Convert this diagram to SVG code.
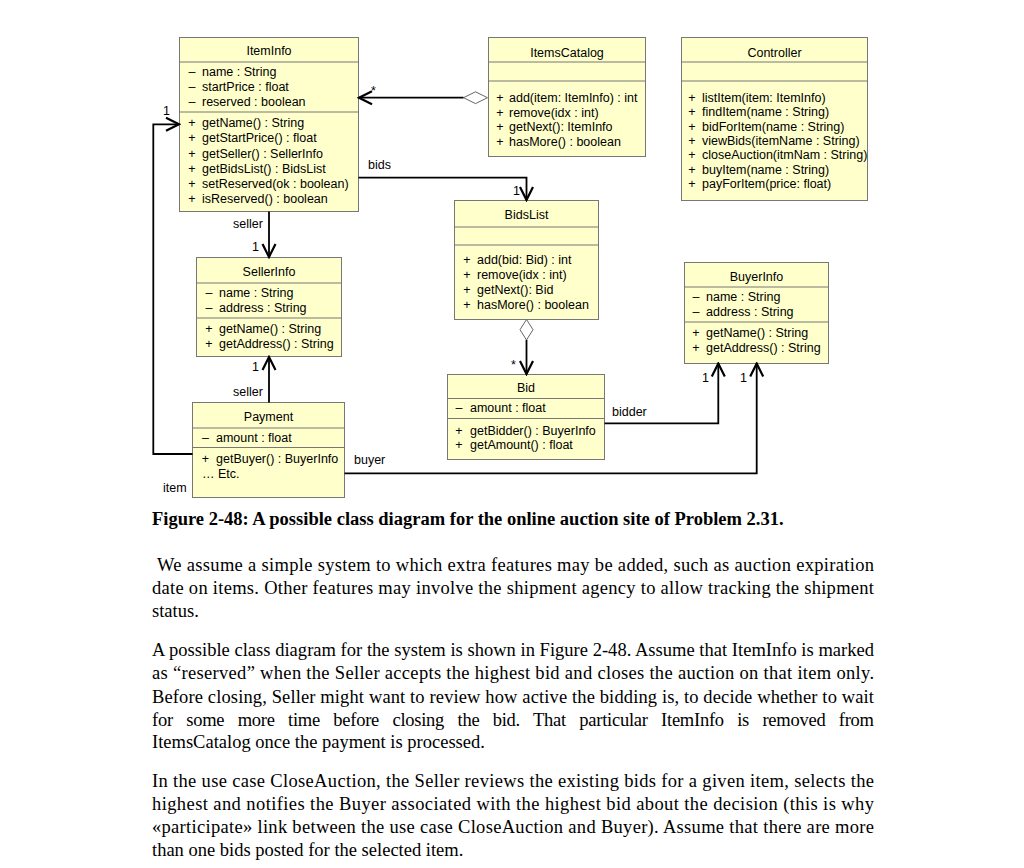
<svg xmlns="http://www.w3.org/2000/svg" width="1024" height="868" viewBox="0 0 1024 868">
<defs>
<style>
.box{fill:#FFFFCC;stroke:#777;stroke-width:1}
.sep{stroke:#777;stroke-width:1}
.t{font-family:"Liberation Sans",Arial,sans-serif;font-size:12.5px;fill:#000}
.c{text-anchor:middle}
.conn{fill:none;stroke:#000;stroke-width:1.8}
.dia{fill:#fff;stroke:#666;stroke-width:1}
.p{font-family:"Liberation Serif","Times New Roman",serif;font-size:18.5px;fill:#000}
.cap{font-weight:bold}
</style>
<marker id="open" markerUnits="userSpaceOnUse" viewBox="-16 -9 18 18" refX="0" refY="0" markerWidth="18" markerHeight="18" orient="auto">
<path d="M-13,-6.5 L0,0 L-13,6.5" fill="none" stroke="#000" stroke-width="2.2"/>
</marker>
</defs>
<rect width="1024" height="868" fill="#fff"/>

<g id="ItemInfo">
<rect class="box" x="179.5" y="37.5" width="179" height="174"/>
<line class="sep" x1="179.5" y1="62" x2="358.5" y2="62"/>
<line class="sep" x1="179.5" y1="112" x2="358.5" y2="112"/>
<text class="t c" x="269" y="55">ItemInfo</text>
<text class="t c" x="192" y="76">–</text><text class="t" x="202" y="76">name : String</text>
<text class="t c" x="192" y="91">–</text><text class="t" x="202" y="91">startPrice : float</text>
<text class="t c" x="192" y="106">–</text><text class="t" x="202" y="106">reserved : boolean</text>
<text class="t c" x="192" y="127">+</text><text class="t" x="202" y="127">getName() : String</text>
<text class="t c" x="192" y="142">+</text><text class="t" x="202" y="142">getStartPrice() : float</text>
<text class="t c" x="192" y="157.5">+</text><text class="t" x="202" y="157.5">getSeller() : SellerInfo</text>
<text class="t c" x="192" y="172.5">+</text><text class="t" x="202" y="172.5">getBidsList() : BidsList</text>
<text class="t c" x="192" y="187.5">+</text><text class="t" x="202" y="187.5">setReserved(ok : boolean)</text>
<text class="t c" x="192" y="202.5">+</text><text class="t" x="202" y="202.5">isReserved() : boolean</text>
</g>

<g id="ItemsCatalog">
<rect class="box" x="488.5" y="37.5" width="157" height="119"/>
<line class="sep" x1="488.5" y1="62" x2="645.5" y2="62"/>
<line class="sep" x1="488.5" y1="81" x2="645.5" y2="81"/>
<text class="t c" x="567" y="57">ItemsCatalog</text>
<text class="t c" x="500" y="102">+</text><text class="t" x="509" y="102">add(item: ItemInfo) : int</text>
<text class="t c" x="500" y="116.5">+</text><text class="t" x="509" y="116.5">remove(idx : int)</text>
<text class="t c" x="500" y="131">+</text><text class="t" x="509" y="131">getNext(): ItemInfo</text>
<text class="t c" x="500" y="145.5">+</text><text class="t" x="509" y="145.5">hasMore() : boolean</text>
</g>

<g id="Controller">
<rect class="box" x="681.5" y="37.5" width="186" height="163"/>
<line class="sep" x1="681.5" y1="62" x2="867.5" y2="62"/>
<line class="sep" x1="681.5" y1="81" x2="867.5" y2="81"/>
<text class="t c" x="774.5" y="57">Controller</text>
<text class="t c" x="692" y="102">+</text><text class="t" x="702" y="102">listItem(item: ItemInfo)</text>
<text class="t c" x="692" y="116.3">+</text><text class="t" x="702" y="116.3">findItem(name : String)</text>
<text class="t c" x="692" y="130.6">+</text><text class="t" x="702" y="130.6">bidForItem(name : String)</text>
<text class="t c" x="692" y="144.9">+</text><text class="t" x="702" y="144.9">viewBids(itemName : String)</text>
<text class="t c" x="692" y="159.2">+</text><text class="t" x="702" y="159.2">closeAuction(itmNam : String)</text>
<text class="t c" x="692" y="173.5">+</text><text class="t" x="702" y="173.5">buyItem(name : String)</text>
<text class="t c" x="692" y="187.8">+</text><text class="t" x="702" y="187.8">payForItem(price: float)</text>
</g>

<g id="BidsList">
<rect class="box" x="454.5" y="200.5" width="144" height="119"/>
<line class="sep" x1="454.5" y1="227" x2="598.5" y2="227"/>
<line class="sep" x1="454.5" y1="245" x2="598.5" y2="245"/>
<text class="t c" x="526.5" y="218.5">BidsList</text>
<text class="t c" x="467" y="263.5">+</text><text class="t" x="477" y="263.5">add(bid: Bid) : int</text>
<text class="t c" x="467" y="278.5">+</text><text class="t" x="477" y="278.5">remove(idx : int)</text>
<text class="t c" x="467" y="293.5">+</text><text class="t" x="477" y="293.5">getNext(): Bid</text>
<text class="t c" x="467" y="308.5">+</text><text class="t" x="477" y="308.5">hasMore() : boolean</text>
</g>

<g id="SellerInfo">
<rect class="box" x="196.5" y="257.5" width="145" height="99"/>
<line class="sep" x1="196.5" y1="283" x2="341.5" y2="283"/>
<line class="sep" x1="196.5" y1="318" x2="341.5" y2="318"/>
<text class="t c" x="269" y="275.5">SellerInfo</text>
<text class="t c" x="209" y="297">–</text><text class="t" x="219" y="297">name : String</text>
<text class="t c" x="209" y="312">–</text><text class="t" x="219" y="312">address : String</text>
<text class="t c" x="209" y="333">+</text><text class="t" x="219" y="333">getName() : String</text>
<text class="t c" x="209" y="348">+</text><text class="t" x="219" y="348">getAddress() : String</text>
</g>

<g id="BuyerInfo">
<rect class="box" x="684.5" y="262.5" width="144" height="101"/>
<line class="sep" x1="684.5" y1="287" x2="828.5" y2="287"/>
<line class="sep" x1="684.5" y1="322" x2="828.5" y2="322"/>
<text class="t c" x="756.5" y="280.5">BuyerInfo</text>
<text class="t c" x="696" y="301">–</text><text class="t" x="706" y="301">name : String</text>
<text class="t c" x="696" y="316">–</text><text class="t" x="706" y="316">address : String</text>
<text class="t c" x="696" y="337">+</text><text class="t" x="706" y="337">getName() : String</text>
<text class="t c" x="696" y="352">+</text><text class="t" x="706" y="352">getAddress() : String</text>
</g>

<g id="Bid">
<rect class="box" x="447.5" y="374.5" width="157" height="85"/>
<line class="sep" x1="447.5" y1="398.5" x2="604.5" y2="398.5"/>
<line class="sep" x1="447.5" y1="418.5" x2="604.5" y2="418.5"/>
<text class="t c" x="526" y="392">Bid</text>
<text class="t c" x="459" y="412">–</text><text class="t" x="470" y="412">amount : float</text>
<text class="t c" x="459" y="434.5">+</text><text class="t" x="470" y="434.5">getBidder() : BuyerInfo</text>
<text class="t c" x="459" y="449">+</text><text class="t" x="470" y="449">getAmount() : float</text>
</g>

<g id="Payment">
<rect class="box" x="192.5" y="402.5" width="152" height="95"/>
<line class="sep" x1="192.5" y1="428" x2="344.5" y2="428"/>
<line class="sep" x1="192.5" y1="447.5" x2="344.5" y2="447.5"/>
<text class="t c" x="268.5" y="421">Payment</text>
<text class="t c" x="205.5" y="442">–</text><text class="t" x="216" y="442">amount : float</text>
<text class="t c" x="205.5" y="463">+</text><text class="t" x="216" y="463">getBuyer() : BuyerInfo</text>
<text class="t" x="202" y="478">… Etc.</text>
</g>

<g id="connectors">
<polygon class="dia" points="487.5,97.7 475.5,91.8 463.5,97.7 475.5,103.6"/>
<path class="conn" d="M463.5,97.7 H359" marker-end="url(#open)"/>
<text class="t" x="371" y="95">*</text>

<path class="conn" d="M358.5,177.7 H526.5 V200" marker-end="url(#open)"/>
<text class="t" x="368" y="169">bids</text>
<text class="t" x="513" y="195">1</text>

<path class="conn" d="M269,211.5 V257" marker-end="url(#open)"/>
<text class="t" x="233" y="228">seller</text>
<text class="t" x="252" y="251">1</text>

<polygon class="dia" points="526.5,319.5 533,329.7 526.5,340 520,329.7"/>
<path class="conn" d="M526.5,340 V374" marker-end="url(#open)"/>
<text class="t" x="511" y="369">*</text>

<path class="conn" d="M269,402.5 V357" marker-end="url(#open)"/>
<text class="t" x="252" y="371">1</text>
<text class="t" x="233" y="396">seller</text>

<path class="conn" d="M604.5,423.3 H718.3 V363.5" marker-end="url(#open)"/>
<text class="t" x="612" y="416">bidder</text>
<text class="t" x="702" y="382">1</text>

<path class="conn" d="M344.5,473.3 H756.7 V363.5" marker-end="url(#open)"/>
<text class="t" x="354" y="464">buyer</text>
<text class="t" x="740" y="382">1</text>

<path class="conn" d="M192.5,454 H153.3 V124.3 H179" marker-end="url(#open)"/>
<text class="t" x="163" y="115">1</text>
<text class="t" x="163" y="492">item</text>
</g>

<g id="text">
<text class="p cap" x="152" y="525">Figure 2-48: A possible class diagram for the online auction site of Problem 2.31.</text>
<text class="p" x="157" y="571" textLength="717" lengthAdjust="spacing">We assume a simple system to which extra features may be added, such as auction expiration</text>
<text class="p" x="152" y="594" textLength="722" lengthAdjust="spacing">date on items. Other features may involve the shipment agency to allow tracking the shipment</text>
<text class="p" x="152" y="617">status.</text>
<text class="p" x="152" y="656" textLength="722" lengthAdjust="spacing">A possible class diagram for the system is shown in Figure 2-48. Assume that ItemInfo is marked</text>
<text class="p" x="152" y="679" textLength="722" lengthAdjust="spacing">as “reserved” when the Seller accepts the highest bid and closes the auction on that item only.</text>
<text class="p" x="152" y="703" textLength="722" lengthAdjust="spacing">Before closing, Seller might want to review how active the bidding is, to decide whether to wait</text>
<text class="p" x="152" y="726" word-spacing="9" textLength="722" lengthAdjust="spacing">for some more time before closing the bid. That particular ItemInfo is removed from</text>
<text class="p" x="152" y="748">ItemsCatalog once the payment is processed.</text>
<text class="p" x="152" y="787" textLength="722" lengthAdjust="spacing">In the use case CloseAuction, the Seller reviews the existing bids for a given item, selects the</text>
<text class="p" x="152" y="810" textLength="722" lengthAdjust="spacing">highest and notifies the Buyer associated with the highest bid about the decision (this is why</text>
<text class="p" x="152" y="833" textLength="722" lengthAdjust="spacing">«participate» link between the use case CloseAuction and Buyer). Assume that there are more</text>
<text class="p" x="152" y="856">than one bids posted for the selected item.</text>
</g>
</svg>
